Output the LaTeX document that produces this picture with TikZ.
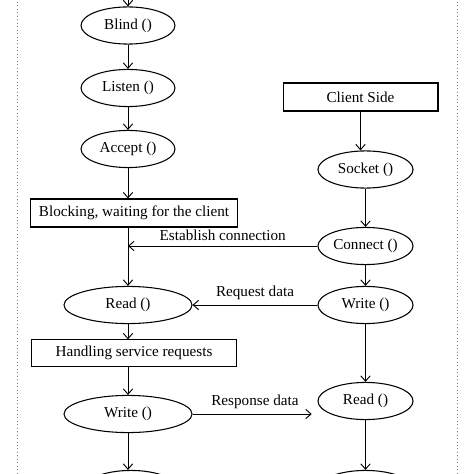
\documentclass[tikz,border=0pt]{standalone}
\usepackage{fontspec}
\setmainfont{Liberation Serif}
\usepackage{tikz}
\usetikzlibrary{arrows.meta,calc,shapes}

\tikzset{
  call/.style={draw,ellipse,line width=0.8pt,inner sep=0pt,minimum height=0.98cm},
  stage/.style={draw,rectangle,line width=0.8pt,inner sep=0pt,minimum height=0.74cm},
  flow/.style={->,line width=0.7pt},
  >={Straight Barb[length=4pt,width=7pt]}
}

\begin{document}
\begin{tikzpicture}[x=0.0264cm,y=-0.0264cm,font=\fontsize{11.4}{13}\selectfont]
\useasboundingbox (0,0) rectangle (474,474);
\clip (0,0) rectangle (474,474);

\draw[dotted,gray,line width=0.6pt] (17,-5) -- (17,480);
\draw[dotted,gray,line width=0.6pt] (457,-5) -- (457,480);

% server side
\coordinate (in) at (128,-5);
\node[call,minimum width=2.48cm] (blind) at (128,25.5) {Blind ()};
\node[call,minimum width=2.48cm] (listen) at (128,88) {Listen ()};
\node[call,minimum width=2.48cm] (accept) at (128,149) {Accept ()};
\node[stage,minimum width=5.44cm] (block) at (134,213) {Blocking, waiting for the client};
\node[call,minimum width=3.38cm] (sread) at (128,305) {Read ()};
\node[stage,minimum width=5.39cm,minimum height=0.69cm] (handle) at (134,353) {Handling service requests};
\node[call,minimum width=3.38cm] (swrite) at (128,414) {Write ()};
\node[call,minimum width=2.48cm] (sclose) at (131,489) {};

% client side
\node[stage,minimum width=4.09cm] (client) at (360.5,97) {Client Side};
\node[call,minimum width=2.51cm] (socket) at (365.5,169.5) {Socket ()};
\node[call,minimum width=2.51cm] (connect) at (365.5,246) {Connect ()};
\node[call,minimum width=2.51cm] (cwrite) at (365.5,305) {Write ()};
\node[call,minimum width=2.51cm] (cread) at (365.5,401) {Read ()};
\node[call,minimum width=2.51cm] (cclose) at (365.5,489) {};

\draw[flow] (in) -- (blind);
\draw[flow] (blind) -- (listen);
\draw[flow] (listen) -- (accept);
\draw[flow] (accept.south) -- (accept.south |- block.north);
\draw[flow] (sread |- block.south) -- (sread);
\draw[flow] (sread.south) -- (sread.south |- handle.north);
\draw[flow] (swrite |- handle.south) -- (swrite);
\draw[flow] (swrite) -- (swrite |- sclose.north);

\draw[flow] (client.south) -- (client.south |- socket.north);
\draw[flow] (socket) -- (connect);
\draw[flow] (connect) -- (cwrite);
\draw[flow] (cwrite) -- (cread);
\draw[flow] (cread) -- (cclose);

\draw[flow] (connect.west) -- node[above] {Establish connection} (connect.west -| sread);
\draw[flow] (cwrite.west) -- node[above] {Request data} (sread.east);
\draw[flow,shorten >=1.5mm] (swrite.east) -- node[above] {Response data} (cread.west |- swrite.east);

\end{tikzpicture}
\end{document}
